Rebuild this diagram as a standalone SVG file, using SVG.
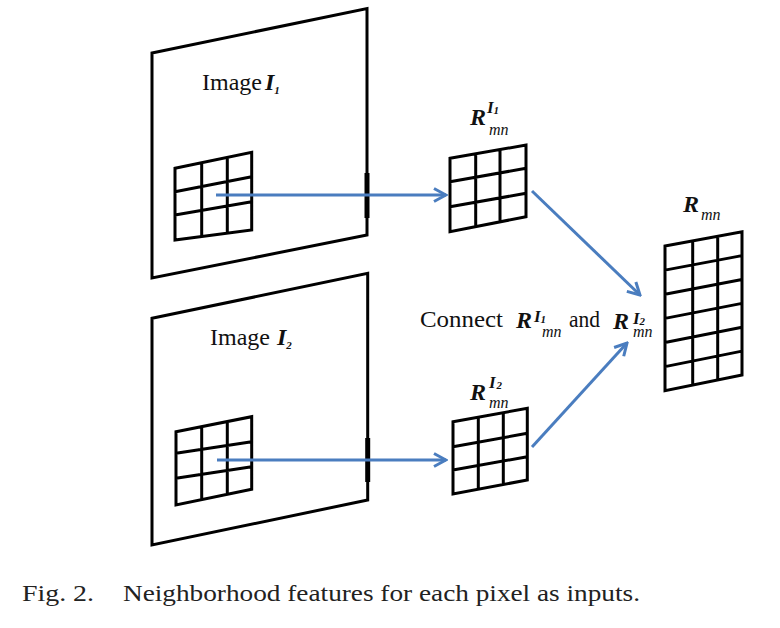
<svg xmlns="http://www.w3.org/2000/svg" width="780" height="628" viewBox="0 0 780 628">
<style>
.panel{fill:#fff;stroke:#000;stroke-width:3;stroke-linejoin:miter}
.grid{fill:none;stroke:#000;stroke-width:3;stroke-linejoin:miter}
.mark{stroke:#000;stroke-width:5}
.arrow{stroke:#4a7dbf;stroke-width:3;fill:none;marker-end:url(#ah)}
text{font-family:"Liberation Serif","Times New Roman",serif;fill:#111}
.t{font-size:24px}
.R{font-size:24px;font-weight:bold;font-style:italic}
.sI{font-size:17px;font-weight:bold;font-style:italic}
.sn{font-size:11px;font-weight:bold;font-style:italic}
.mn{font-size:16px;font-style:italic;font-weight:normal}
.cap{font-size:24px;fill:#222}
</style>
<defs>
<marker id="ah" viewBox="-16 -9 18 18" markerWidth="18" markerHeight="18" refX="0" refY="0" orient="auto" markerUnits="userSpaceOnUse">
<path d="M -12 -6.5 L 0 0 L -12 6.5" fill="none" stroke="#4a7dbf" stroke-width="3"/>
</marker>
</defs>

<g id="image1">
<polygon class="panel" points="152,53 367,8.5 367,235 152,278"/>
<line class="mark" x1="367" y1="173" x2="367" y2="218"/>
<text x="202" y="90"><tspan class="t" textLength="60" lengthAdjust="spacingAndGlyphs">Image</tspan><tspan class="R" x="265">I</tspan><tspan class="sn" font-size="13px" dy="4">1</tspan></text>
<path class="grid" d="M175,168.3 L251.7,152.3 L251.7,230 L175,240 Z M175,191.7 L251.7,176.7 M175,215 L251.7,201.7 M201.7,162.7 L201.7,236.5 M227.3,157.4 L227.3,233.2"/>
</g>

<g id="image2">
<polygon class="panel" points="152,318.3 367.7,273.3 367.7,500 152,545"/>
<line class="mark" x1="367.7" y1="438" x2="367.7" y2="482"/>
<text x="210" y="345"><tspan class="t">Image</tspan><tspan class="R" x="277">I</tspan><tspan class="sn" font-size="13px" dy="4">2</tspan></text>
<path class="grid" d="M176,431.7 L251.7,416.7 L251.7,489.3 L176,505 Z M176,453.3 L251.7,441.7 M176,478.3 L251.7,466.7 M201.7,426.6 L201.7,499.7 M227.3,421.5 L227.3,494.4"/>
</g>

<g id="r1">
<text x="470" y="125"><tspan class="R">R</tspan><tspan class="sI" x="487" y="113">I</tspan><tspan class="sn" x="493.5" y="114">1</tspan><tspan class="mn" x="489" y="135">mn</tspan></text>
<path class="grid" d="M450,158.3 L526,145 L526,216.7 L450,231.7 Z M450,181.7 L526,168.3 M450,206.7 L526,193.3 M475.7,153.8 L475.7,226.6 M500,149.6 L500,221.8"/>
</g>

<g id="r2">
<text x="470" y="400"><tspan class="R">R</tspan><tspan class="sI" x="489" y="388">I</tspan><tspan class="sn" x="496.5" y="389">2</tspan><tspan class="mn" x="489" y="408">mn</tspan></text>
<path class="grid" d="M453,421.7 L527.3,408.3 L527.3,480 L453,494 Z M453,446.7 L527.3,433.3 M453,470 L527.3,456.7 M478.3,417.1 L478.3,489.2 M503.3,412.6 L503.3,484.5"/>
</g>

<g id="rmn">
<text x="683" y="212"><tspan class="R">R</tspan><tspan class="mn" x="701" y="220">mn</tspan></text>
<path class="grid" d="M665,246 L742,231.7 L742,375 L665,390.7 Z M665,270.1 L742,255.6 M665,294.2 L742,279.5 M665,318.4 L742,303.4 M665,342.5 L742,327.2 M665,366.6 L742,351.1 M692.7,240.9 L692.7,385.1 M717.7,236.2 L717.7,380"/>
</g>

<g id="connect">
<text x="420" y="327"><tspan class="t" textLength="83" lengthAdjust="spacingAndGlyphs">Connect</tspan><tspan class="R" x="516" y="328">R</tspan><tspan class="sI" x="534" y="322">I</tspan><tspan class="sn" x="540.5" y="323">1</tspan><tspan class="mn" x="542" y="337">mn</tspan><tspan class="t" x="569" y="327" textLength="31" lengthAdjust="spacingAndGlyphs">and</tspan><tspan class="R" x="613" y="329">R</tspan><tspan class="sI" x="633" y="324">I</tspan><tspan class="sn" x="639.5" y="325">2</tspan><tspan class="mn" x="633" y="337">mn</tspan></text>
</g>

<g id="connectors">
<line class="arrow" x1="216" y1="195" x2="446" y2="195"/>
<line class="arrow" x1="217" y1="460" x2="446" y2="460"/>
<line class="arrow" x1="532" y1="191" x2="640" y2="295"/>
<line class="arrow" x1="532" y1="447" x2="627" y2="343"/>
</g>

<g id="caption">
<text class="cap" x="22" y="601" textLength="72" lengthAdjust="spacingAndGlyphs">Fig. 2.</text>
<text class="cap" x="123" y="601" textLength="517" lengthAdjust="spacingAndGlyphs">Neighborhood features for each pixel as inputs.</text>
</g>
</svg>
